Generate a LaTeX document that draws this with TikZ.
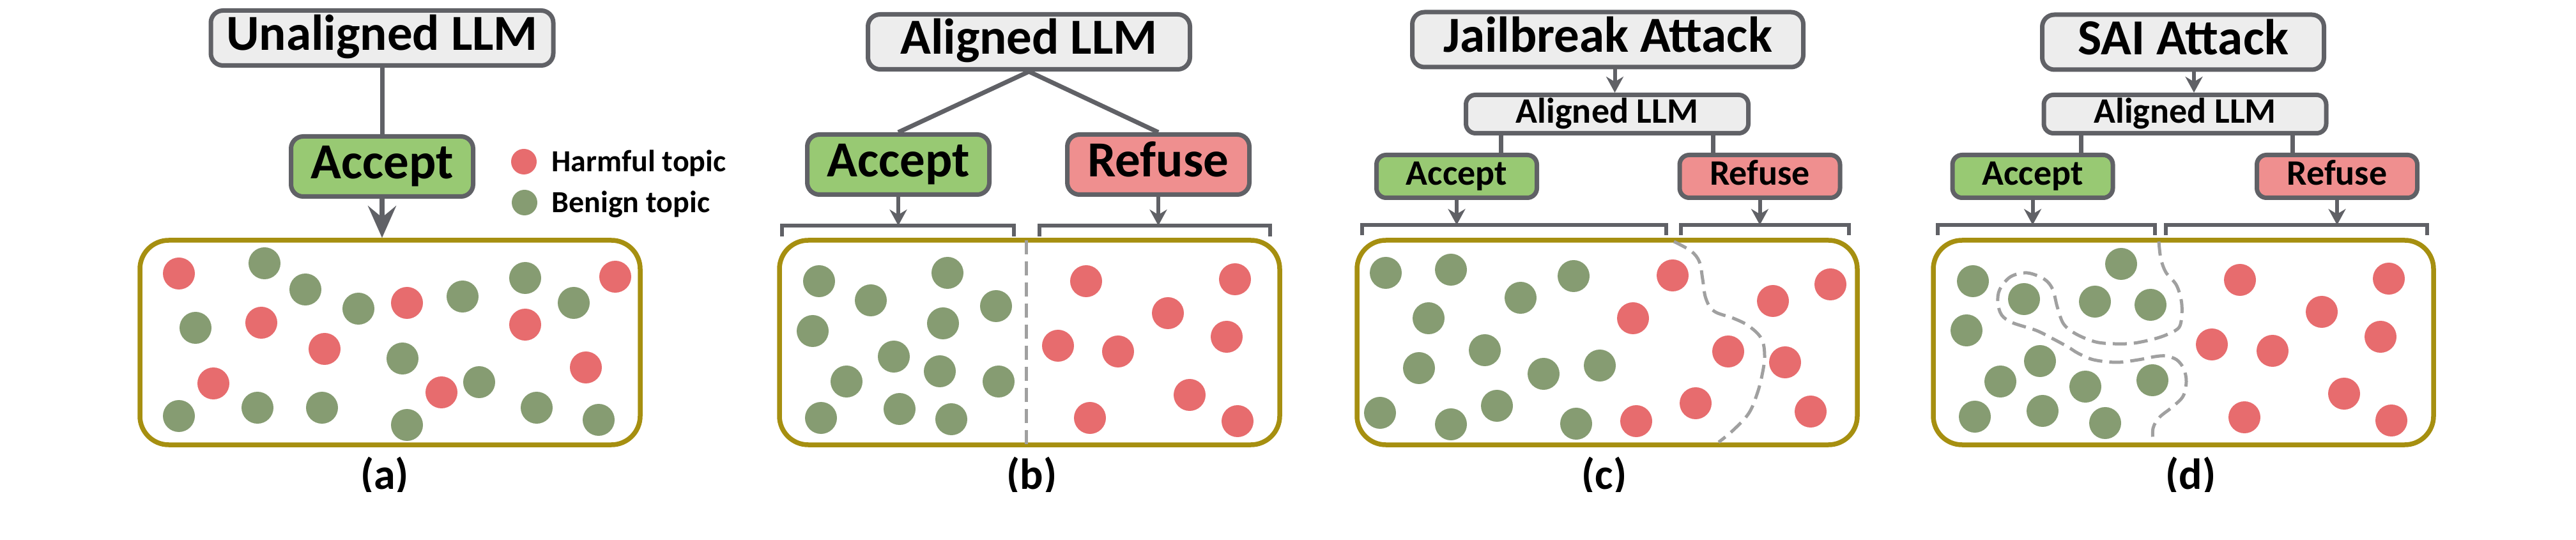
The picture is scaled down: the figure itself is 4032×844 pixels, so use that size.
\documentclass[tikz,border=0pt]{standalone}
\usepackage{fontspec}
\setmainfont{Carlito}
\usepackage{xcolor}
\usetikzlibrary{arrows.meta}

\definecolor{randgrau}{RGB}{96,97,102}
\definecolor{kastengrau}{RGB}{237,237,237}
\definecolor{jafarbe}{RGB}{152,201,115}
\definecolor{neinfarbe}{RGB}{239,143,143}
\definecolor{punktrot}{RGB}{231,108,110}
\definecolor{punktgruen}{RGB}{134,156,114}
\definecolor{oliv}{RGB}{166,143,16}
\definecolor{strichgrau}{RGB}{160,160,160}

\begin{document}
\begin{tikzpicture}
	[
	x=1pt, y=1pt, font=\bfseries,
	>={Stealth[length=25pt, width=27pt, inset=8pt]},
	%Kästen
	llm/.style={draw=randgrau, fill=kastengrau, line width=7pt, rounded corners=19pt, inner sep=0pt,
		minimum height=86pt, text height=52pt, text depth=13pt, font=\bfseries\fontsize{79}{90}\selectfont},
	llmklein/.style={llm, rounded corners=15pt, minimum width=442pt, minimum height=60pt,
		text height=37pt, text depth=9pt, font=\bfseries\fontsize{56}{64}\selectfont},
	jagross/.style={llm, fill=jafarbe, minimum width=285pt, minimum height=94pt},
	neingross/.style={jagross, fill=neinfarbe},
	jaklein/.style={llmklein, fill=jafarbe, minimum width=251pt, minimum height=67pt},
	neinklein/.style={jaklein, fill=neinfarbe},
	panel/.style={draw=oliv, line width=7.5pt, rounded corners=45pt, inner sep=0pt,
		minimum width=783pt, minimum height=320pt},
	%Linien
	verb/.style={randgrau, line width=7pt},
	pfeil/.style={->, randgrau, line width=6pt},
	klammer/.style={randgrau, line width=6pt},
	grenze/.style={strichgrau, line width=5pt, dash pattern=on 22pt off 11pt},
	legende/.style={font=\bfseries\fontsize{48}{56}\selectfont},
	marke/.style={font=\bfseries\fontsize{68}{78}\selectfont}
	]
	\useasboundingbox (0,0) rectangle (4032,844);

	%(a) Unaligned LLM
	\node[llm, minimum width=536pt] (hdrA) at (598,784.5) {Unaligned LLM};
	\node[jagross] (accA) at (598,583.5) {Accept};
	\node[panel] (pa) at (610.5,308) {};
	\draw[verb] (hdrA.south) -- (accA.north);
	\draw[verb, line width=8pt, -{Stealth[length=50pt, width=44pt, inset=18pt]}] (accA.south) -- (accA.south |- pa.north);
	\fill[punktrot] (820,591) circle (20);
	\fill[punktgruen] (821,527) circle (20);
	\node[legende, anchor=base west] (lh) at (860,575.5) {Harmful topic};
	\node[legende, anchor=base west] (lb) at (860,511.5) {Benign topic};
	\foreach \x/\y in {280/416, 409/339, 508/298, 334/244, 637/370, 822/336, 963/411, 917/269, 691/230}
		\fill[punktrot] (\x,\y) circle (25);
	\foreach \x/\y in {414/432, 478/391, 561/361, 306/331, 724/380, 822/409, 898/370, 630/283,
		750/246, 280/193, 403/206, 504/206, 637/179, 840/206, 937/187}
		\fill[punktgruen] (\x,\y) circle (25);

	%(b) Aligned LLM
	\node[llm, minimum width=504pt] (hdrB) at (1610.5,778.5) {Aligned LLM};
	\node[jagross] (accB) at (1406,586.5) {Accept};
	\node[neingross] (refB) at (1813,586.5) {Refuse};
	\node[panel] (pb) at (1611.5,308) {};
	\coordinate (kb) at (0,491);
	\draw[verb] (hdrB.south) -- (accB.north);
	\draw[verb] (hdrB.south) -- (refB.north);
	\draw[pfeil] (accB.south) -- (accB.south |- kb);
	\draw[pfeil] (refB.south) -- (refB.south |- kb);
	\draw[klammer] (1224,474) -- (1224,491) -- (1587,491) -- (1587,474);
	\draw[klammer] (1627,474) -- (1627,491) -- (1988,491) -- (1988,474);
	\draw[grenze] (1606,468) -- (1606,148);
	\foreach \x/\y in {1282/404, 1363/374, 1483/417, 1272/326, 1476/338, 1559/365, 1399/286,
		1325/247, 1471/263, 1563/247, 1285/190, 1408/204, 1489/188}
		\fill[punktgruen] (\x,\y) circle (25);
	\foreach \x/\y in {1700/404, 1933/407, 1828/354, 1656/303, 1750/294, 1920/317, 1862/226, 1706/190, 1937/185}
		\fill[punktrot] (\x,\y) circle (25);

	%(c) Jailbreak
	\node[llm, minimum width=612pt] (hdrC) at (2516.5,782) {Jailbreak Attack};
	\node[llmklein] (llmC) at (2515.5,665.5) {Aligned LLM};
	\node[jaklein] (accC) at (2280,568) {Accept};
	\node[neinklein] (refC) at (2754.5,568) {Refuse};
	\node[panel] (pc) at (2515.5,308) {};
	\coordinate (kc) at (0,492);
	\draw[pfeil] ([xshift=11pt]hdrC.south) -- ([xshift=12pt]llmC.north);
	\draw[verb] ([xshift=-166.5pt]llmC.south) -- ([xshift=69pt]accC.north);
	\draw[verb] ([xshift=165.5pt]llmC.south) -- ([xshift=-73.5pt]refC.north);
	\draw[pfeil] (accC.south) -- (accC.south |- kc);
	\draw[pfeil] (refC.south) -- (refC.south |- kc);
	\draw[klammer] (2132,476) -- (2132,492) -- (2608,492) -- (2608,476);
	\draw[klammer] (2631,476) -- (2631,492) -- (2894,492) -- (2894,476);
	\draw[grenze] plot[smooth, tension=0.6] coordinates {(2620,466) (2647,451) (2660,434) (2665,407)
		(2670,377) (2683,357) (2713,346) (2737,334) (2757,314) (2762,287) (2758,257) (2750,227)
		(2737,197) (2713,171) (2690,152)};
	\foreach \x/\y in {2169/417, 2271/422, 2463/412, 2380/378, 2236/346, 2324/296, 2221/268,
		2416/259, 2504/272, 2160/198, 2271/180, 2343/209, 2467/181}
		\fill[punktgruen] (\x,\y) circle (25);
	\foreach \x/\y in {2618/413, 2556/346, 2561/185, 2775/373, 2865/399, 2705/294, 2794/277, 2654/213, 2834/200}
		\fill[punktrot] (\x,\y) circle (25);

	%(d) SAI
	\node[llm, minimum width=441pt] (hdrD) at (3417,778) {SAI Attack};
	\node[llmklein] (llmD) at (3420,665.5) {Aligned LLM};
	\node[jaklein] (accD) at (3181.5,568) {Accept};
	\node[neinklein] (refD) at (3658,568) {Refuse};
	\node[panel] (pd) at (3417.5,308) {};
	\coordinate (kd) at (0,492);
	\draw[pfeil] ([xshift=17pt]hdrD.south) -- ([xshift=14pt]llmD.north);
	\draw[verb] ([xshift=-163pt]llmD.south) -- ([xshift=75.5pt]accD.north);
	\draw[verb] ([xshift=168pt]llmD.south) -- ([xshift=-70pt]refD.north);
	\draw[pfeil] (accD.south) -- (accD.south |- kd);
	\draw[pfeil] (refD.south) -- (refD.south |- kd);
	\draw[klammer] (3033,476) -- (3033,492) -- (3373,492) -- (3373,476);
	\draw[klammer] (3390,476) -- (3390,492) -- (3799,492) -- (3799,476);
	\draw[grenze] plot[smooth, tension=0.55] coordinates {(3379,466) (3382,440) (3390,418) (3407,397)
		(3415,367) (3412,334) (3395,322) (3373,314) (3340,307) (3310,306) (3280,309) (3250,321)
		(3230,337) (3220,364) (3213,391) (3200,407) (3173,417) (3147,411) (3130,391) (3127,371)
		(3133,351) (3150,339) (3187,327) (3213,314) (3237,301) (3253,291) (3277,281) (3313,277)
		(3347,281) (3373,286) (3390,287) (3407,281) (3418,267) (3422,247) (3417,224) (3400,207)
		(3380,191) (3370,174) (3370,150)};
	\foreach \x/\y in {3088/404, 3320/431, 3168/376, 3279/372, 3366/367, 3078/327, 3193/279,
		3131/247, 3264/239, 3369/249, 3091/192, 3197/201, 3295/182}
		\fill[punktgruen] (\x,\y) circle (25);
	\foreach \x/\y in {3506/406, 3739/408, 3634/356, 3462/305, 3557/295, 3726/317, 3669/228, 3513/191, 3743/186}
		\fill[punktrot] (\x,\y) circle (25);

	%Beschriftung
	\begin{scope}
		\clip (0,75) rectangle (4032,844);
		\node[marke, anchor=base] (la) at (602,79) {(a)};
		\node[marke, anchor=base] (lbb) at (1615,79) {(b)};
		\node[marke, anchor=base] (lc) at (2511,79) {(c)};
		\node[marke, anchor=base] (ld) at (3429,79) {(d)};
	\end{scope}
\end{tikzpicture}
\end{document}
